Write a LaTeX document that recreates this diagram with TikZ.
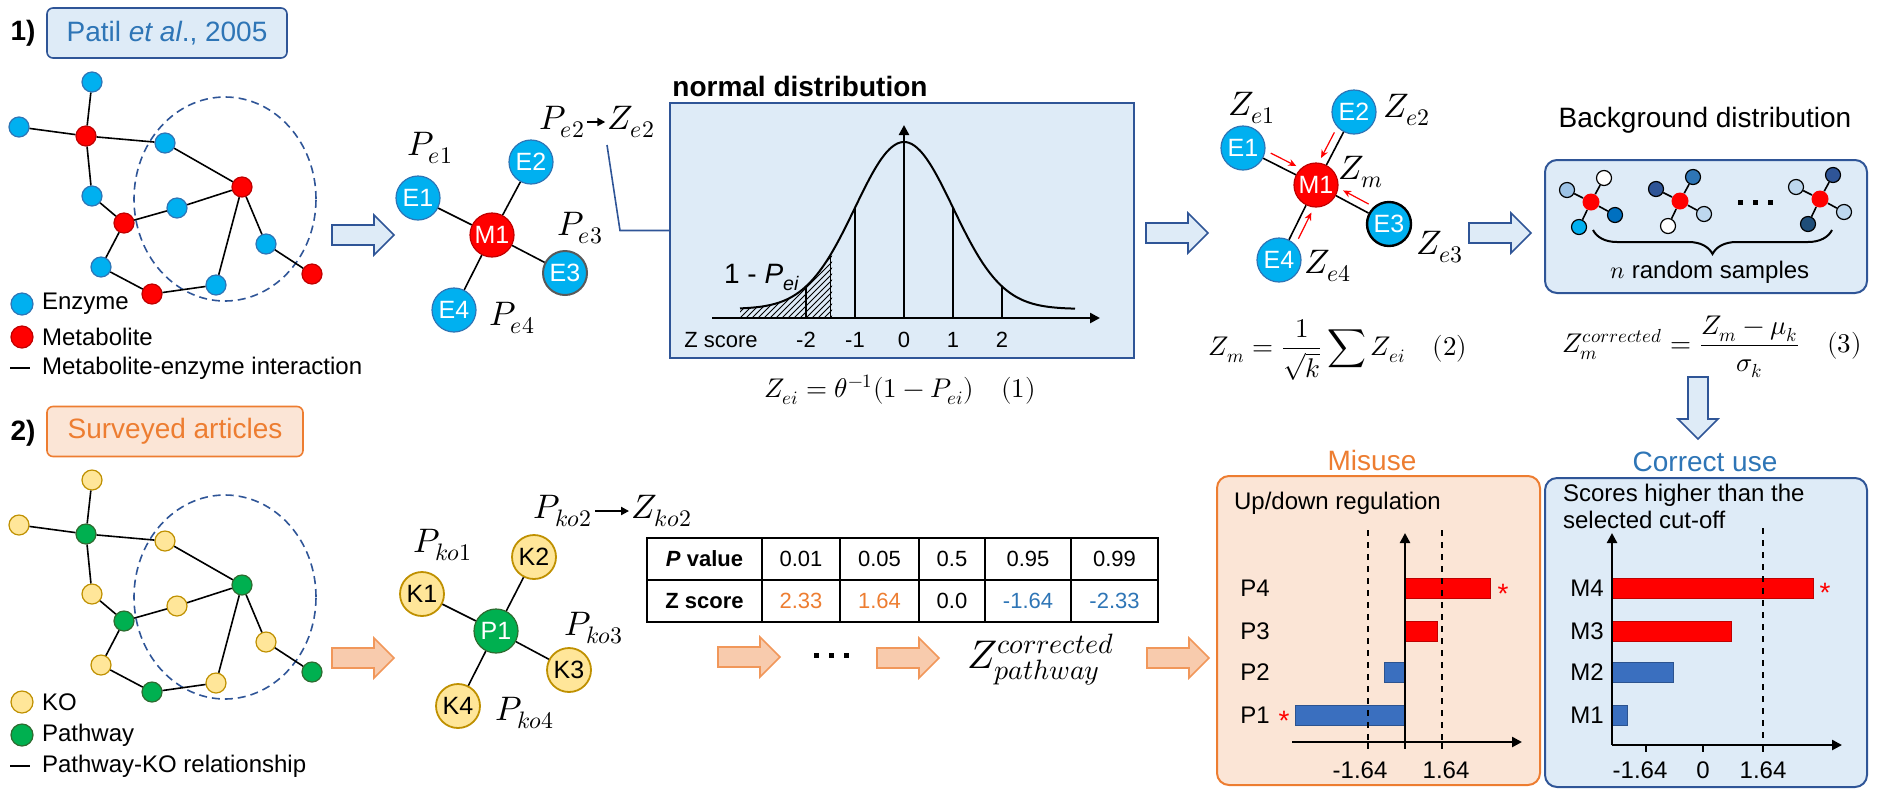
\documentclass[tikz,border=0pt]{standalone}
\usepackage{fontspec}
\usepackage{unicode-math}
\setmainfont{Liberation Sans}
\setmathfont{Latin Modern Math}
\usetikzlibrary{positioning,arrows.meta,patterns,calc,decorations.pathreplacing}

\definecolor{enzfill}{HTML}{00B0F0}
\definecolor{enzline}{HTML}{2E75B6}
\definecolor{metfill}{HTML}{FF0000}
\definecolor{metline}{HTML}{C00000}
\definecolor{kofill}{HTML}{FFE699}
\definecolor{koline}{HTML}{BF9000}
\definecolor{pwfill}{HTML}{00B050}
\definecolor{pwline}{HTML}{2E6B30}
\definecolor{boxfill}{HTML}{DEEBF7}
\definecolor{boxline}{HTML}{2F5597}
\definecolor{peach}{HTML}{FBE5D6}
\definecolor{orgline}{HTML}{ED7D31}
\definecolor{orgfill}{HTML}{F8CBAD}
\definecolor{txtblue}{HTML}{2E75B6}
\definecolor{txtorg}{HTML}{ED7D31}
\definecolor{barblue}{HTML}{3A6FBF}
\definecolor{barred}{HTML}{FF0000}
\definecolor{bgA}{HTML}{9DC3E6}
\definecolor{bgB}{HTML}{0070C0}
\definecolor{bgC}{HTML}{BDD7EE}
\definecolor{bgD}{HTML}{2F5597}
\definecolor{bgE}{HTML}{1F4E79}
\definecolor{bgF}{HTML}{2E75B6}

\tikzset{
  enz/.style={circle, draw=enzline, fill=enzfill, line width=0.6pt, minimum size=10pt, inner sep=0pt},
  metab/.style={enz, draw=metline, fill=metfill},
  ko/.style={enz, draw=koline, fill=kofill},
  pathw/.style={enz, draw=pwline, fill=pwfill},
  bigenz/.style={enz, minimum size=22pt, text=white, font=\fontsize{12.5}{14}\selectfont},
  bigmet/.style={bigenz, draw=metline, fill=metfill},
  bigko/.style={bigenz, draw=koline, fill=kofill, text=black, line width=0.9pt},
  bigpw/.style={bigenz, draw=pwline, fill=pwfill},
  link/.style={line width=0.8pt},
  lbl/.style={font=\fontsize{12}{14}\selectfont},
  mlbl/.style={font=\fontsize{17}{19}\selectfont, inner sep=1pt},
  eqn/.style={font=\fontsize{13.5}{15}\selectfont, inner sep=0pt},
  tagbox/.style={rounded corners=3pt, line width=0.8pt, minimum height=25pt, font=\fontsize{14}{16}\selectfont},
  distbox/.style={draw=boxline, fill=boxfill, line width=1pt},
  panel/.style={rounded corners=6pt, line width=1pt},
  cell/.style={draw, line width=1pt, minimum height=21pt, inner sep=0pt, font=\fontsize{11}{13}\selectfont},
  zarr/.style={-{Stealth[length=4pt,width=3.5pt]}, red, line width=0.6pt},
  minileaf/.style={circle, draw=black, line width=0.6pt, minimum size=7.5pt, inner sep=0pt},
  minihub/.style={circle, fill=red, minimum size=8.5pt, inner sep=0pt},
  bluearr/.style={draw=boxline, fill=boxfill, line width=0.8pt},
  orgarr/.style={draw=orgline!80, fill=orgfill, line width=0.8pt},
  barrow/.pic={
    \path[pic actions] (0pt,-5pt) -- (21pt,-5pt) -- (21pt,-10pt) -- (31pt,0pt)
      -- (21pt,10pt) -- (21pt,5pt) -- (0pt,5pt) -- cycle;
  },
}

\begin{document}
\begin{tikzpicture}[x=0.5pt, y=-0.5pt, >={Triangle[length=5pt,width=5pt]}]
\useasboundingbox (0,0) rectangle (1878,794);

% headings
\node[font=\bfseries\fontsize{14}{16}\selectfont] (one) at (23,33) {1)};
\node[tagbox, draw=boxline, fill=boxfill, text=txtblue, minimum width=120pt] (patil) at (167,33) {Patil \textit{et al}., 2005};
\node[font=\bfseries\fontsize{14}{16}\selectfont] (two) at (23,433) {2)};
\node[tagbox, draw=orgline, fill=peach, text=txtorg, minimum width=128pt] (survey) at (175,431.5) {Surveyed articles};

% the two networks with legends
\foreach \dy/\hub/\leaf/\la/\lb/\lc in {0/metab/enz/Enzyme/Metabolite/Metabolite-enzyme interaction,398/pathw/ko/KO/Pathway/Pathway-KO relationship}{
  \begin{scope}[shift={(0,\dy)}]
    \draw[boxline, line width=0.8pt, dash pattern=on 4pt off 2.5pt] (225,199) ellipse [x radius=45.5pt, y radius=51pt];
    \node[\leaf] (a\dy) at (92,82) {};
    \node[\leaf] (b\dy) at (19,127) {};
    \node[\hub]  (c\dy) at (86,136) {};
    \node[\leaf] (d\dy) at (165,143) {};
    \node[\hub]  (f\dy) at (242,187) {};
    \node[\leaf] (g\dy) at (92,196) {};
    \node[\leaf] (h\dy) at (177,208) {};
    \node[\hub]  (i\dy) at (124,223) {};
    \node[\leaf] (j\dy) at (266,244) {};
    \node[\hub]  (k\dy) at (312,274) {};
    \node[\leaf] (l\dy) at (101,267) {};
    \node[\hub]  (n\dy) at (152,294) {};
    \node[\leaf] (o\dy) at (216,285) {};
    \foreach \u/\v in {a/c,b/c,c/d,c/g,d/f,g/i,i/h,h/f,i/l,l/n,n/o,o/f,f/j,j/k}
      \draw[link] (\u\dy) -- (\v\dy);
    % legend
    \node[\leaf, minimum size=11pt] (la\dy) at (22,304) {};
    \node[lbl, anchor=west] (lta\dy) at (35,304) {\la};
    \node[\hub, minimum size=11pt] (lb\dy) at (22,337) {};
    \node[lbl, anchor=west] (ltb\dy) at (35,337) {\lb};
    \draw[line width=1pt] (10,368) -- (30,368);
    \node[lbl, anchor=west] (ltc\dy) at (35,368) {\lc};
  \end{scope}
}

% block arrows
\pic[bluearr] at (332,235) {barrow};
\pic[bluearr] at (1146,233) {barrow};
\pic[bluearr] at (1469,233) {barrow};
\pic[bluearr, rotate=-90] at (1698,377) {barrow};
\pic[orgarr] at (332,658) {barrow};
\pic[orgarr] at (718,657) {barrow};
\pic[orgarr] at (877,658) {barrow};
\pic[orgarr] at (1147,658) {barrow};

% star with P values
\node[bigmet] (m1) at (492,235) {M1};
\node[bigenz] (e1) at (418,198) {E1};
\node[bigenz] (e2) at (531,162) {E2};
\node[bigenz, draw=black!65, line width=1pt] (e3) at (565,273) {E3};
\node[bigenz] (e4) at (454,310) {E4};
\foreach \e in {e1,e2,e3,e4}
  \draw[link] (\e) -- (m1);
\node[mlbl] (pe1) at (430,148) {$P_{e1}$};
\node[mlbl] (pe3) at (580,228) {$P_{e3}$};
\node[mlbl] (pe4) at (512,318) {$P_{e4}$};
\node[mlbl] (pe2) at (562,122) {$P_{e2}$};
\node[mlbl, right=9pt of pe2] (ze2) {$Z_{e2}$};
\draw[->, line width=1pt, >={Triangle[length=4pt,width=4pt]}] (pe2) -- (ze2);

% normal distribution
\node[distbox, minimum width=232pt, minimum height=127.5pt] (nbox) at (902,230.5) {};
\node[font=\bfseries\fontsize{14}{16}\selectfont, anchor=base west, inner sep=0pt] (ndtitle) at (672,96) {normal distribution};
\coordinate (callout) at (607,145);
\draw[boxline, line width=0.8pt] (callout) -- (620,230.5) -- (nbox.west);
\fill[pattern=north east lines] (740,318) -- plot[domain=740:832, samples=40] (\x,{309-167*exp(-0.5*((\x-904)/49)^2)}) -- (832,318) -- cycle;
\draw[line width=1pt] plot[domain=740:1075, samples=120, smooth] (\x,{309-167*exp(-0.5*((\x-904)/49)^2)});
\foreach \k in {-2,-1.5,-1,1,2}
  \draw[line width=0.9pt] ({904+49*(\k)},318) -- ({904+49*(\k)},{309-167*exp(-0.5*(\k)^2)});
\draw[->, line width=1.2pt] (712,318) -- (1100,318);
\draw[->, line width=1.2pt] (904,318) -- (904,125);
\node[font=\fontsize{11}{13}\selectfont] (zscore) at (721,340) {Z score};
\foreach \t [count=\i] in {-2,-1,0,1,2}
  \node[font=\fontsize{11}{13}\selectfont] (tick\i) at ({904+49*(\t)},340) {\t};
\node[font=\fontsize{14}{16}\selectfont, inner sep=1pt] (onemp) at (762,277) {1 - \textit{P}\textsubscript{\textit{ei}}};
\node[eqn] (eq1) at (900,390) {$Z_{ei}=\theta^{-1}(1-P_{ei})\quad(1)$};

% star with Z scores
\node[bigmet] (zM1) at (1316,185) {M1};
\node[bigenz] (zE1) at (1243,148) {E1};
\node[bigenz] (zE2) at (1354,112) {E2};
\node[bigenz, draw=black, line width=1.2pt] (zE3) at (1389,224) {E3};
\node[bigenz] (zE4) at (1279,260) {E4};
\foreach \e in {zE1,zE2,zE3,zE4}
  \draw[link] (\e) -- (zM1);
\foreach \e/\a in {1/90,2/-90,3/-90,4/-90}
  \draw[zarr] ($(zE\e)!0.33!(zM1)!4pt!\a:(zM1)$) -- ($(zE\e)!0.68!(zM1)!4pt!\a:(zM1)$);
\node[mlbl] (zl1) at (1252,108) {$Z_{e1}$};
\node[mlbl] (zl2) at (1407,110) {$Z_{e2}$};
\node[mlbl] (zlm) at (1361,172) {$Z_{m}$};
\node[mlbl] (zl3) at (1440,247) {$Z_{e3}$};
\node[mlbl] (zl4) at (1328,266) {$Z_{e4}$};
\node[eqn] (eq2) at (1338,350) {$\displaystyle Z_m=\frac{1}{\sqrt{k}}\sum Z_{ei}\quad(2)$};

% background distribution
\node[font=\fontsize{14}{16}\selectfont] (bgtitle) at (1705,120) {Background distribution};
\draw[panel, draw=boxline, fill=boxfill] (1545,160) rectangle (1867,293);
\foreach \s/\cx/\cy/\ca/\cb/\cc/\cd in {1/1591/202/bgA/white/bgB/enzfill,2/1680/201/bgD/bgF/bgC/white,3/1820/199/bgC/bgD/bgC/bgE}{
  \node[minileaf, fill=\ca] (sa\s) at ({\cx-24},{\cy-12}) {};
  \node[minileaf, fill=\cb] (sb\s) at ({\cx+13},{\cy-24}) {};
  \node[minileaf, fill=\cc] (sc\s) at ({\cx+24},{\cy+13}) {};
  \node[minileaf, fill=\cd] (sd\s) at ({\cx-12},{\cy+25}) {};
  \node[minihub] (sh\s) at (\cx,\cy) {};
  \foreach \l in {sa,sb,sc,sd}
    \draw[line width=0.8pt] (\l\s) -- (sh\s);
}
\foreach \i in {0,1,2}
  \fill ({1738+\i*15},200) rectangle ++(5,5);
\draw[decorate, decoration={brace, mirror, amplitude=12pt}, line width=1pt] (1593,230) -- (1832,230);
\node[lbl] (nrand) at (1710,272) {$n$ random samples};
\node[eqn] (eq3) at (1712,347) {$\displaystyle Z_m^{corrected}=\frac{Z_m-\mu_k}{\sigma_k}\quad(3)$};

% star with KO p values
\node[bigpw] (p1) at (496,631) {P1};
\node[bigko] (k1) at (422,594) {K1};
\node[bigko] (k2) at (534,557) {K2};
\node[bigko] (k3) at (569,670) {K3};
\node[bigko] (k4) at (458,706) {K4};
\foreach \e in {k1,k2,k3,k4}
  \draw[link] (\e) -- (p1);
\node[mlbl] (pko1) at (443,545) {$P_{ko1}$};
\node[mlbl] (pko3) at (594,628) {$P_{ko3}$};
\node[mlbl] (pko4) at (525,713) {$P_{ko4}$};
\node[mlbl] (pko2) at (563,511) {$P_{ko2}$};
\node[mlbl, right=17pt of pko2] (zko2) {$Z_{ko2}$};
\draw[->, line width=1pt, >={Triangle[length=4pt,width=4pt]}] (pko2) -- (zko2);

% p value table
\node[cell, minimum width=57.5pt, font=\bfseries\fontsize{11}{13}\selectfont] (phead) at (704.5,559) {\textit{P} value};
\node[cell, minimum width=57.5pt, font=\bfseries\fontsize{11}{13}\selectfont] (zhead) at (704.5,601) {Z score};
\foreach \cx/\w/\pv/\zv/\zc [count=\i] in {801/78/0.01/2.33/txtorg,879.5/79/0.05/1.64/txtorg,952/66/0.5/0.0/black,1028/86/0.95/-1.64/txtblue,1114.5/87/0.99/-2.33/txtblue}{
  \node[cell, minimum width=\w*0.5pt] (pv\i) at (\cx,559) {\pv};
  \node[cell, minimum width=\w*0.5pt, text=\zc] (zv\i) at (\cx,601) {\zv};
}
\foreach \i in {0,1,2}
  \fill ({814+\i*15},653) rectangle ++(5,5);
\node[font=\fontsize{20}{22}\selectfont] (zpath) at (1041,660) {$Z_{pathway}^{corrected}$};

% misuse panel
\node[font=\fontsize{14}{16}\selectfont, text=txtorg] (misuse) at (1372,460) {Misuse};
\draw[panel, draw=orgline, fill=peach] (1217,476) rectangle (1540,785);
\node[lbl, anchor=west] (updown) at (1227,503) {Up/down regulation};
\foreach \n/\yy/\xa/\xb/\cc in {4/588/1405/1490/barred,3/631/1405/1437/barred,2/672/1384/1405/barblue,1/715/1295/1405/barblue}{
  \draw[draw=\cc!75!black, fill=\cc, line width=0.5pt] (\xa,{\yy-10}) rectangle (\xb,{\yy+10});
  \node[lbl] (mp\n) at (1255,\yy) {P\n};
}
\draw[dashed, line width=0.8pt] (1368,530) -- (1368,747);
\draw[dashed, line width=0.8pt] (1442,530) -- (1442,747);
\draw[->, line width=1.2pt] (1405,742) -- (1405,533);
\draw[->, line width=1.2pt] (1292,742) -- (1522,742);
\foreach \t in {1368,1405,1442}
  \draw[line width=1pt] (\t,742) -- (\t,749);
\node[lbl] (mneg) at (1360,770) {-1.64};
\node[lbl] (mpos) at (1446,770) {1.64};
\node[text=red, font=\fontsize{14}{16}\selectfont] (mstar4) at (1503,594) {*};
\node[text=red, font=\fontsize{14}{16}\selectfont] (mstar1) at (1284,721) {*};

% correct use panel
\node[font=\fontsize{14}{16}\selectfont, text=txtblue] (correct) at (1705,462) {Correct use};
\draw[panel, draw=boxline, fill=boxfill] (1545,478) rectangle (1867,787);
\node[lbl, anchor=west, align=left, font=\fontsize{12}{13.5}\selectfont] (cutoff) at (1556,506.5) {Scores higher than the\\selected cut-off};
\foreach \n/\yy/\xb/\cc in {4/588/1813/barred,3/631/1731/barred,2/672/1673/barblue,1/715/1627/barblue}{
  \draw[draw=\cc!75!black, fill=\cc, line width=0.5pt] (1612,{\yy-10}) rectangle (\xb,{\yy+10});
  \node[lbl] (cm\n) at (1587,\yy) {M\n};
}
\draw[dashed, line width=0.8pt] (1763,528) -- (1763,750);
\draw[->, line width=1.2pt] (1612,745) -- (1612,533);
\draw[->, line width=1.2pt] (1612,745) -- (1842,745);
\foreach \t in {1646,1703,1763}
  \draw[line width=1pt] (\t,745) -- (\t,752);
\node[lbl] (cneg) at (1640,770) {-1.64};
\node[lbl] (czero) at (1703,770) {0};
\node[lbl] (cpos) at (1763,770) {1.64};
\node[text=red, font=\fontsize{14}{16}\selectfont] (cstar4) at (1825,593) {*};
\end{tikzpicture}
\end{document}
